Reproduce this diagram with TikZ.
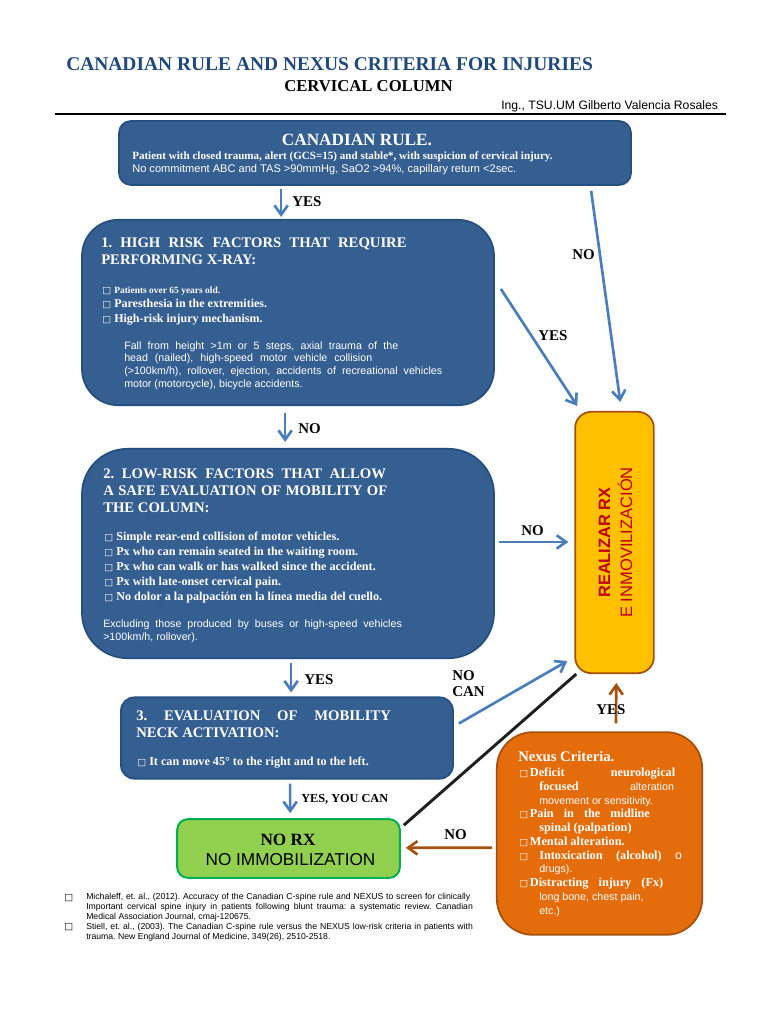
\documentclass[tikz,border=0pt]{standalone}
\usepackage{fontspec}
\setmainfont{Liberation Serif}
\setsansfont{Liberation Sans}
\newfontfamily\boxfont{DejaVu Sans}
\usetikzlibrary{arrows.meta,calc}
\definecolor{bluefill}{HTML}{365F91}
\definecolor{blueline}{HTML}{244F7E}
\definecolor{arrowblue}{HTML}{4A7EBB}
\definecolor{arrowbrown}{HTML}{A6500F}
\definecolor{titleblue}{HTML}{1F497D}
\definecolor{rxfill}{HTML}{FFC000}
\definecolor{rxtext}{HTML}{C00000}
\definecolor{nexusfill}{HTML}{E46C0A}
\definecolor{norxfill}{HTML}{92D050}
\definecolor{norxline}{HTML}{00B050}
\frenchspacing
\newcommand{\sz}[2]{\fontsize{#1}{#2}\selectfont}
\newcommand{\bul}{{\boxfont\fontsize{7}{7}\selectfont\char"25A1}}
\newcommand{\jline}[2]{\makebox[#1][s]{#2}}
\begin{document}
\begin{tikzpicture}[x=0.75pt,y=-0.75pt]
	\tikzstyle{bluebox}=[draw=blueline,fill=bluefill,line width=1.3pt]
	\tikzstyle{edge}=[draw=arrowblue,line width=2pt,-{Straight Barb[length=7pt,width=10pt]}]
	\tikzstyle{brownedge}=[edge,draw=arrowbrown]
	\tikzstyle{lbl}=[font=\rmfamily\bfseries\sz{11.2}{12},inner sep=0pt,anchor=base west,align=left]
	\tikzstyle{head}=[text=white,font=\rmfamily\bfseries\sz{11}{12.5},inner sep=0pt,anchor=base west,align=left]
	\tikzstyle{items}=[text=white,font=\rmfamily\bfseries\sz{9.1}{11.2},inner sep=0pt,anchor=base west,align=left]
	\tikzstyle{note}=[text=white,font=\sffamily\sz{8}{9.5},inner sep=0pt,anchor=base west,align=left]
	\useasboundingbox (0,0) rectangle (768,1024);
	\fill[white] (0,0) rectangle (768,1024);

	% header
	\node [inner sep=0pt,anchor=base west,text=titleblue,font=\rmfamily\bfseries\sz{14.6}{16}] (title) at (66,70) {CANADIAN RULE AND NEXUS CRITERIA FOR INJURIES};
	\node [inner sep=0pt,anchor=base west,font=\rmfamily\bfseries\sz{12.5}{16}] (subtitle) at (284,92) {CERVICAL COLUMN};
	\node [inner sep=0pt,anchor=base west,font=\sffamily\sz{9.15}{11}] (author) at (501,109) {Ing., TSU.UM Gilberto Valencia Rosales};
	\coordinate (ruleL) at (55,114);
	\coordinate (ruleR) at (726,114);
	\draw [line width=2.2pt] (ruleL) -- (ruleR);

	% boxes
	\node [bluebox,rounded corners=9pt,minimum width=384pt,minimum height=48pt] (canadian) at (375,153) {};
	\node [bluebox,rounded corners=27pt,minimum width=309pt,minimum height=139pt] (high) at (288,312.5) {};
	\node [bluebox,rounded corners=34pt,minimum width=309pt,minimum height=157pt] (low) at (288,553.5) {};
	\node [bluebox,rounded corners=10pt,minimum width=249pt,minimum height=61pt] (mobility) at (287,738) {};
	\node [draw=arrowbrown,line width=1.3pt,fill=rxfill,rounded corners=12pt,minimum width=59pt,minimum height=196pt] (realizar) at (614.5,542.5) {};
	\node [draw=arrowbrown,line width=1.3pt,fill=nexusfill,rounded corners=27pt,minimum width=154pt,minimum height=152pt] (nexus) at (599.5,833.5) {};
	\node [draw=norxline,line width=1.5pt,fill=norxfill,rounded corners=8pt,minimum width=167pt,minimum height=44pt] (norx) at (288.5,848.5) {};

	% canadian
	\node [text=white,inner sep=0pt,anchor=base,font=\rmfamily\bfseries\sz{12.9}{14}] (canadianT) at (357,145) {CANADIAN RULE.};
	\node [text=white,inner sep=0pt,anchor=base west,font=\rmfamily\bfseries\sz{8.3}{9}] (canadianA) at (132,159) {Patient with closed trauma, alert (GCS=15) and stable*, with suspicion of cervical injury.};
	\node [text=white,inner sep=0pt,anchor=base west,font=\sffamily\sz{8.3}{9}] (canadianB) at (132,172) {No commitment ABC and TAS >90mmHg, SaO2 >94\%, capillary return <2sec.};

	% high risk
	\node [head] (highT) at (101,264) {\jline{229pt}{1. HIGH RISK FACTORS THAT REQUIRE}\\PERFORMING X-RAY:};
	\node [text=white,inner sep=0pt,anchor=base west,font=\rmfamily\bfseries\sz{7.1}{8}] (highA) at (102,293) {\makebox[9pt][l]{\bul}Patients over 65 years old.};
	\node [items,font=\rmfamily\bfseries\sz{9}{11.2}] (highB) at (102,322) {\makebox[9pt][l]{\bul}Paresthesia in the extremities.\\\makebox[9pt][l]{\bul}High-risk injury mechanism.};
	\node [note] (highC) at (124,387) {\jline{205.5pt}{Fall from height >1m or 5 steps, axial trauma of the}\\\jline{186pt}{head (nailed), high-speed motor vehicle collision}\\\jline{238.5pt}{(>100km/h), rollover, ejection, accidents of recreational vehicles}\\motor (motorcycle), bicycle accidents.};

	% low risk
	\node [head] (lowT) at (103,512) {\jline{212pt}{2. LOW-RISK FACTORS THAT ALLOW}\\\jline{213pt}{A SAFE EVALUATION OF MOBILITY OF}\\THE COLUMN:};
	\node [items] (lowB) at (104,600) {\makebox[9pt][l]{\bul}Simple rear-end collision of motor vehicles.\\\makebox[9pt][l]{\bul}Px who can remain seated in the waiting room.\\\makebox[9pt][l]{\bul}Px who can walk or has walked since the accident.\\\makebox[9pt][l]{\bul}Px with late-onset cervical pain.\\\makebox[9pt][l]{\bul}No dolor a la palpación en la línea media del cuello.};
	\node [note] (lowC) at (103,640) {\jline{224pt}{Excluding those produced by buses or high-speed vehicles}\\>100km/h, rollover).};

	% mobility
	\node [head] (mobilityT) at (136,737) {\jline{191pt}{3. EVALUATION OF MOBILITY}\\NECK ACTIVATION:};
	\node [items] (mobilityB) at (137,765) {\makebox[9pt][l]{\bul}It can move 45° to the right and to the left.};

	% no rx
	\node [inner sep=0pt,anchor=base,font=\rmfamily\bfseries\sz{12.9}{14}] (norxA) at (288,845) {NO RX};
	\node [inner sep=0pt,anchor=base,font=\sffamily\sz{12.9}{14}] (norxB) at (290.5,865) {NO IMMOBILIZATION};

	% realizar
	\node [rotate=90,inner sep=0pt,anchor=base west,text=rxtext,font=\sffamily\bfseries\sz{12.3}{14}] (realizarA) at (610,598) {REALIZAR RX};
	\node [rotate=90,inner sep=0pt,anchor=base west,text=rxtext,font=\sffamily\sz{12.4}{14}] (realizarB) at (632,618) {E INMOVILIZACIÓN};

	% nexus
	\node [text=white,inner sep=0pt,anchor=base west,font=\rmfamily\bfseries\sz{11}{12}] (nexusT) at (518,761) {Nexus Criteria.};
	\node [text=white,inner sep=0pt,anchor=base west,align=left,font=\rmfamily\bfseries\sz{9.2}{10.3}] (nexusB) at (519,914) {%
		\makebox[8pt][l]{\bul}\jline{109pt}{Deficit neurological}\\
		\hspace*{15pt}\jline{101pt}{focused {\mdseries\sffamily\sz{8}{9}alteration}}\\
		\hspace*{15pt}{\mdseries\sffamily\sz{8}{9}movement or sensitivity.}\\
		\makebox[8pt][l]{\bul}\jline{90pt}{Pain in the midline}\\
		\hspace*{15pt}spinal (palpation)\\
		\makebox[8pt][l]{\bul}Mental alteration.\\
		\makebox[15pt][l]{\bul}\jline{107pt}{Intoxication (alcohol) {\mdseries\sffamily o}}\\
		\hspace*{15pt}{\mdseries\sffamily\sz{8}{9}drugs).}\\
		\makebox[8pt][l]{\bul}\jline{100pt}{Distracting injury (Fx)}\\
		\hspace*{15pt}{\mdseries\sffamily\sz{8}{9}long bone, chest pain,}\\
		\hspace*{15pt}{\mdseries\sffamily\sz{8}{9}etc.)}};

	% references
	\node [inner sep=0pt,anchor=base west,font=\sz{6.5}{7}] (refA) at (64,900) {\bul};
	\node [inner sep=0pt,anchor=base west,align=left,font=\sffamily\sz{6.5}{7.2}] (refB) at (86,919) {\jline{288pt}{Michaleff, et. al., (2012). Accuracy of the Canadian C-spine rule and NEXUS to screen for clinically}\\\jline{290pt}{Important cervical spine injury in patients following blunt trauma: a systematic review. Canadian}\\Medical Association Journal, cmaj-120675.};
	\node [inner sep=0pt,anchor=base west,font=\sz{6.5}{7}] (refC) at (64,929) {\bul};
	\node [inner sep=0pt,anchor=base west,align=left,font=\sffamily\sz{6.5}{7.2}] (refD) at (86,939) {\jline{290pt}{Stiell, et. al., (2003). The Canadian C-spine rule versus the NEXUS low-risk criteria in patients with}\\trauma. New England Journal of Medicine, 349(26), 2510-2518.};

	% connectors
	\path[edge] ($(canadian.south west)+(163,3)$) -- ($(high.north west)+(200,-2)$);
	\path[edge] ($(canadian.south west)+(473,5)$) -- ($(realizar.north west)+(46,-9)$);
	\path[edge] ($(high.north east)+(6,70)$) -- ($(realizar.north west)+(3,-5)$);
	\path[edge] ($(high.south west)+(204,7)$) -- ($(low.north west)+(204,-6)$);
	\path[edge] ($(low.north east)+(4,94)$) -- ($(realizar.north west)+(-6,131)$);
	\path[edge] ($(low.south west)+(210,4)$) -- ($(mobility.north west)+(171,-4)$);
	\path[edge] ($(mobility.north east)+(5,27)$) -- ($(realizar.south west)+(-7,-13)$);
	\path[edge] ($(mobility.south west)+(170,4)$) -- ($(norx.north west)+(114,-5)$);
	\coordinate (blackA) at ($(norx.north east)+(3,7)$);
	\coordinate (blackB) at ($(realizar.south west)+(2,0)$);
	\draw [line width=2.2pt,color=black!88] (blackA) -- (blackB);
	\path[brownedge] ($(nexus.north west)+(120,-8)$) -- ($(realizar.south west)+(42,9)$);
	\path[brownedge] ($(nexus.south west)+(-4,-88)$) -- ($(norx.south east)+(5,-31)$);

	% labels
	\node [lbl] (yesA) at (292,206) {YES};
	\node [lbl] (noA) at (572,259) {NO};
	\node [lbl] (yesB) at (538,340) {YES};
	\node [lbl] (noB) at (298,433) {NO};
	\node [lbl] (noC) at (521,535) {NO};
	\node [lbl] (yesC) at (304,684) {YES};
	\node [lbl] (noD) at (452,696) {NO\\CAN};
	\node [lbl] (yesD) at (596,714) {YES};
	\node [lbl,font=\rmfamily\bfseries\sz{9.2}{12}] (yesE) at (301,802) {YES, YOU CAN};
	\node [lbl] (noE) at (444,839) {NO};
\end{tikzpicture}
\end{document}
